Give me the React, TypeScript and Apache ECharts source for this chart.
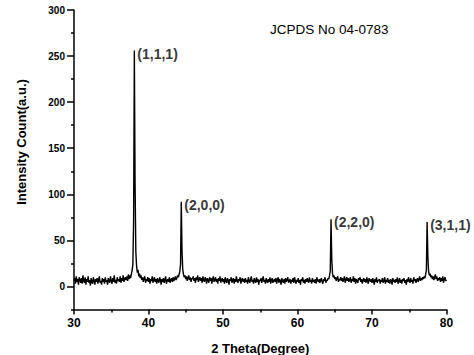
import React, { useEffect, useRef } from "react";
import * as echarts from "echarts";

// 2θ sampled from 30° to 80° every 0.1° (index i -> 30 + i*0.1)
const thetaStart = 30;
const thetaStep = 0.1;
const intensity: number[] = [
  // 30
  6, 9, 3, 11, 5, 8, 2, 10, 7, 4,
  // 31
  9, 3, 12, 6, 4, 10, 2, 8, 5, 11,
  // 32
  4, 7, 1, 9, 5, 3, 10, 6, 2, 8,
  // 33
  5, 9, 3, 7, 11, 4, 6, 2, 9, 5,
  // 34
  8, 3, 10, 5, 7, 2, 9, 6, 4, 11,
  // 35
  6, 3, 9, 5, 12, 4, 7, 3, 10, 6,
  // 36
  8, 5, 11, 4, 9, 6, 12, 5, 8, 10,
  // 37
  7, 11, 6, 13, 8, 12, 9, 14, 17, 24,
  // 38
  70, 256, 110, 38, 22, 15, 18, 11, 14, 9,
  // 39
  12, 7, 10, 5, 9, 11, 4, 8, 6, 10,
  // 40
  5, 9, 3, 8, 6, 11, 4, 7, 10, 5,
  // 41
  8, 3, 9, 6, 4, 10, 7, 2, 8, 5,
  // 42
  9, 4, 7, 11, 3, 6, 8, 5, 10, 4,
  // 43
  7, 9, 5, 10, 6, 8, 11, 7, 9, 12,
  // 44
  10, 13, 16, 24, 92, 38, 18, 13, 10, 12,
  // 45
  8, 11, 6, 9, 12, 7, 10, 5, 9, 8,
  // 46
  11, 6, 9, 4, 10, 7, 12, 5, 8, 10,
  // 47
  6, 9, 4, 11, 7, 5, 10, 8, 3, 9,
  // 48
  7, 4, 10, 6, 9, 3, 8, 11, 5, 7,
  // 49
  10, 5, 8, 3, 9, 6, 11, 4, 7, 9,
  // 50
  5, 8, 3, 10, 6, 4, 9, 7, 2, 8,
  // 51
  6, 10, 4, 7, 9, 3, 8, 5, 11, 6,
  // 52
  4, 8, 6, 10, 3, 7, 9, 5, 8, 4,
  // 53
  9, 5, 7, 3, 10, 6, 4, 8, 11, 5,
  // 54
  7, 3, 9, 6, 4, 10, 5, 8, 2, 7,
  // 55
  6, 9, 4, 8, 11, 5, 7, 3, 9, 6,
  // 56
  4, 8, 5, 10, 3, 7, 9, 4, 6, 8,
  // 57
  5, 9, 3, 7, 10, 4, 8, 6, 2, 9,
  // 58
  6, 4, 8, 3, 9, 5, 7, 10, 4, 6,
  // 59
  8, 3, 7, 5, 9, 4, 10, 6, 3, 7,
  // 60
  5, 9, 4, 7, 2, 8, 6, 10, 4, 7,
  // 61
  3, 8, 5, 9, 6, 4, 10, 5, 7, 3,
  // 62
  9, 5, 7, 4, 8, 3, 10, 6, 5, 8,
  // 63
  4, 7, 9, 5, 3, 8, 6, 10, 4, 7,
  // 64
  6, 9, 8, 12, 17, 73, 30, 14, 10, 12,
  // 65
  8, 10, 6, 9, 11, 5, 8, 7, 10, 6,
  // 66
  9, 5, 8, 11, 4, 7, 10, 6, 9, 5,
  // 67
  7, 10, 4, 8, 6, 11, 5, 9, 3, 8,
  // 68
  6, 4, 9, 7, 10, 5, 8, 3, 7, 9,
  // 69
  5, 8, 4, 10, 6, 3, 9, 7, 5, 8,
  // 70
  4, 9, 6, 2, 8, 5, 10, 4, 7, 6,
  // 71
  8, 3, 7, 5, 9, 4, 6, 10, 3, 7,
  // 72
  5, 9, 4, 7, 3, 8, 6, 2, 9, 5,
  // 73
  7, 4, 8, 5, 10, 3, 6, 9, 4, 7,
  // 74
  3, 8, 6, 9, 4, 7, 2, 8, 5, 10,
  // 75
  6, 4, 9, 5, 7, 3, 10, 6, 8, 4,
  // 76
  7, 9, 5, 8, 11, 6, 9, 7, 10, 8,
  // 77
  11, 9, 13, 18, 70, 32, 16, 12, 14, 10,
  // 78
  12, 8, 11, 7, 10, 13, 8, 11, 6, 9,
  // 79
  7, 10, 5, 9, 6, 11, 4, 8, 10, 6,
  // 80
  7,
];

const peakTheta = [38.1, 44.4, 64.5, 77.4];
const peakHeight = [256, 92, 73, 70];
const peakLabels = ["(1,1,1)", "(2,0,0)", "(2,2,0)", "(3,1,1)"];

const xTicksMajor = [30, 40, 50, 60, 70, 80];
const yTicksMajor = [0, 50, 100, 150, 200, 250, 300];
const yTicksMinor = [-25, 25, 75, 125, 175, 225, 275];

const FONT = "'Liberation Sans', Arial, sans-serif";

export default function App() {
  const ref = useRef<HTMLDivElement>(null);

  useEffect(() => {
    if (!ref.current) return;
    const chart = echarts.init(ref.current, undefined, { renderer: "svg" });
    const lineData = intensity.map((v, i) => [
      +(thetaStart + i * thetaStep).toFixed(1),
      v,
    ]);
    const peakData = peakTheta.map((t, i) => ({
      value: [t, peakHeight[i]],
      label: { formatter: peakLabels[i] },
    }));

    const yCommon = {
      type: "value",
      min: -25,
      max: 300,
      position: "left",
      splitLine: { show: false },
    };

    chart.setOption({
      animation: false,
      backgroundColor: "#ffffff",
      grid: {
        left: 74,
        right: 27.5,
        top: 10,
        bottom: 45.5,
        containLabel: false,
        outerBoundsMode: "none",
      },
      xAxis: {
        type: "value",
        min: 30,
        max: 80,
        interval: 10,
        name: "2 Theta(Degree)",
        nameLocation: "middle",
        nameGap: 32,
        nameTextStyle: { fontFamily: FONT, fontWeight: "bold", fontSize: 13, color: "#000" },
        axisLine: { show: true, onZero: false, lineStyle: { color: "#000", width: 1.5 } },
        axisTick: { show: true, inside: false, length: 5, lineStyle: { color: "#000", width: 1.5 }, customValues: xTicksMajor },
        minorTick: { show: true, splitNumber: 2, length: 3, lineStyle: { color: "#000", width: 1.5 } },
        axisLabel: { fontFamily: FONT, fontWeight: "bold", fontSize: 12, color: "#000", margin: 7 },
        splitLine: { show: false },
        minorSplitLine: { show: false },
      },
      yAxis: [
        {
          ...yCommon,
          name: "",
          axisLine: { show: true, onZero: false, lineStyle: { color: "#000", width: 1.5 } },
          axisTick: { show: true, inside: false, length: 7, lineStyle: { color: "#000", width: 1.5 }, customValues: yTicksMajor },
          axisLabel: {
            fontFamily: FONT,
            fontWeight: "bold",
            fontSize: 10,
            color: "#000",
            margin: 9,
            customValues: yTicksMajor,
          },
        },
        {
          ...yCommon,
          axisLine: { show: false },
          axisTick: { show: true, inside: false, length: 3, lineStyle: { color: "#000", width: 1.5 }, customValues: yTicksMinor },
          axisLabel: { show: false },
        },
      ],
      graphic: [
        {
          type: "text",
          x: 21,
          y: 142,
          rotation: Math.PI / 2,
          style: {
            text: "Intensity Count(a.u.)",
            font: `bold 13px ${FONT}`,
            fill: "#000",
            textAlign: "center",
            textVerticalAlign: "middle",
          },
        },
        {
          type: "text",
          x: 270,
          y: 29,
          style: {
            text: "JCPDS No 04-0783",
            font: `13.5px ${FONT}`,
            fill: "#000",
            textAlign: "left",
            textVerticalAlign: "middle",
          },
        },
      ],
      series: [
        {
          type: "line",
          data: lineData,
          showSymbol: false,
          symbol: "none",
          lineStyle: { color: "#000", width: 1.4 },
          silent: true,
        },
        {
          type: "scatter",
          data: peakData,
          symbol: "circle",
          symbolSize: 2,
          itemStyle: { color: "rgba(0,0,0,0)" },
          label: {
            show: true,
            position: "right",
            distance: 2,
            offset: [0, 3],
            fontFamily: FONT,
            fontWeight: "bold",
            fontSize: 14,
            color: "#000",
          },
          silent: true,
          z: 5,
        },
      ],
    });
    return () => chart.dispose();
  }, []);

  return (
    <div
      ref={ref}
      style={{ position: "fixed", left: 0, top: 0, width: 474, height: 355 }}
    />
  );
}
